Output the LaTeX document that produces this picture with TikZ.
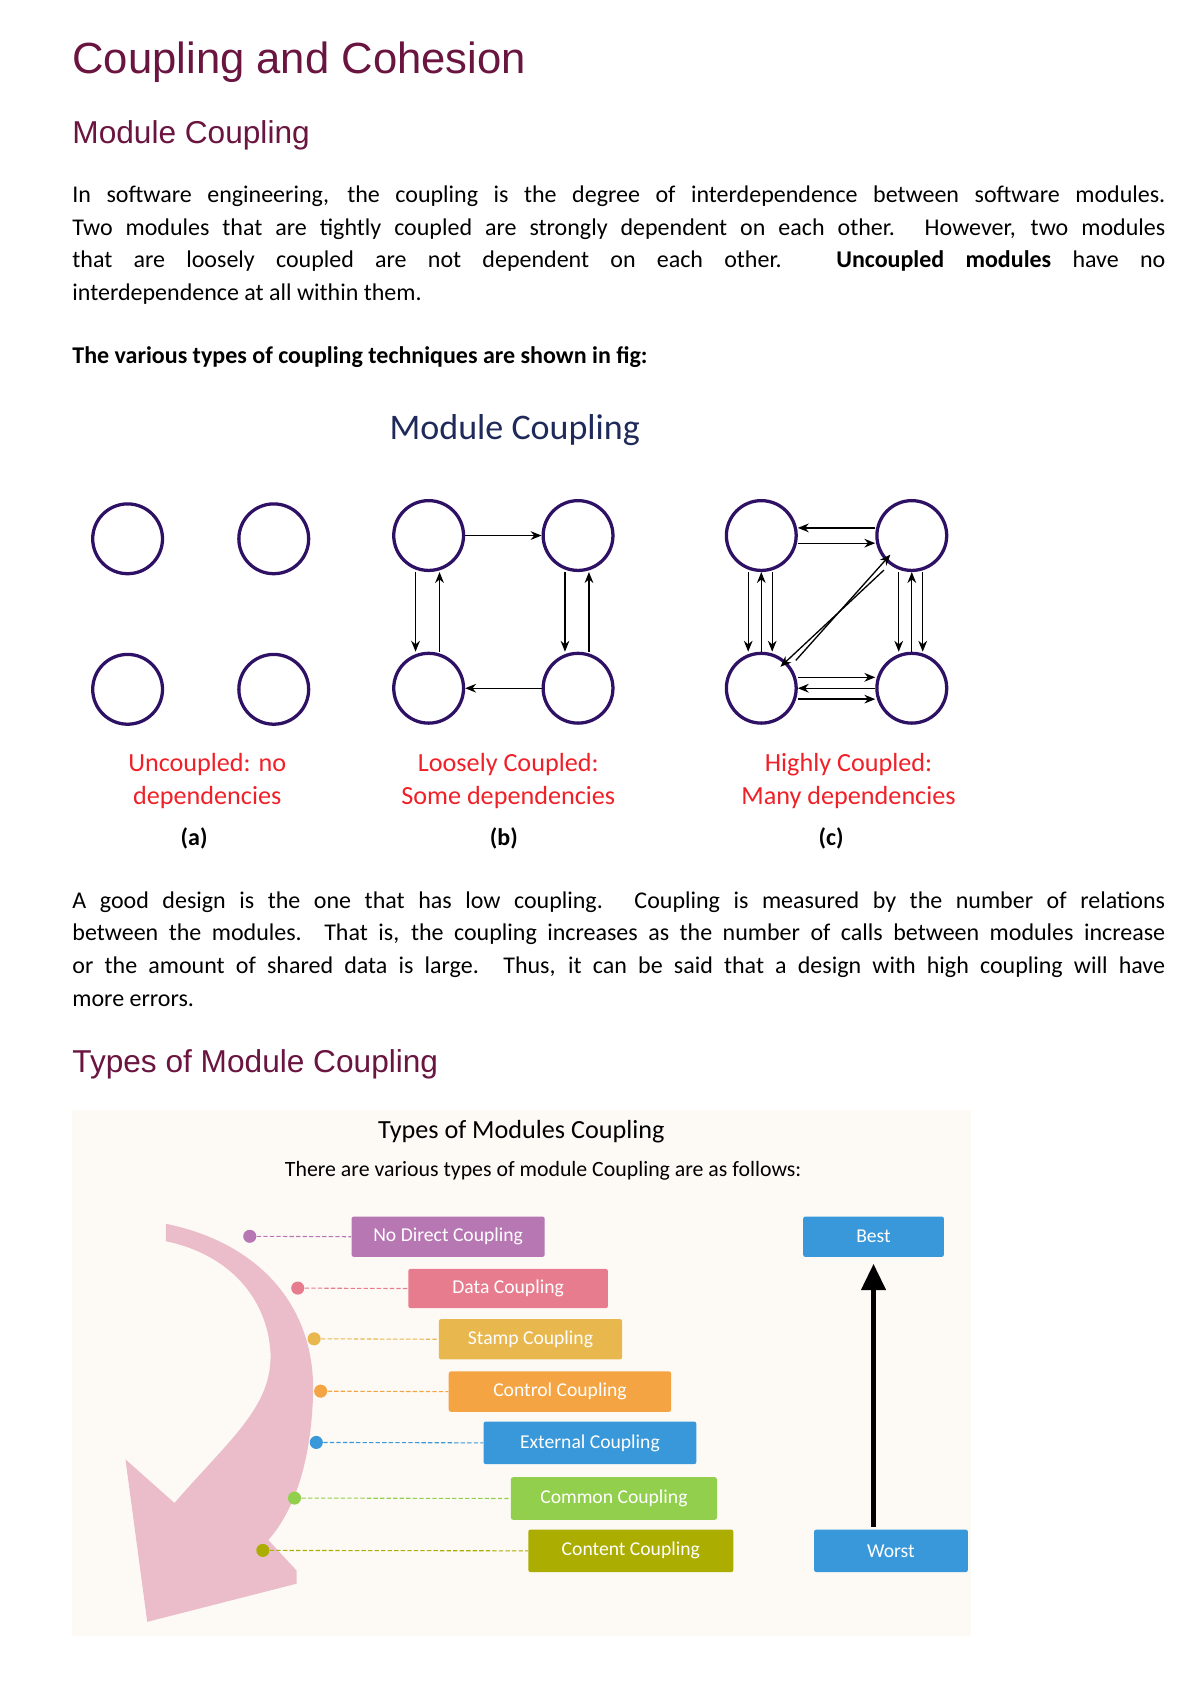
\documentclass[tikz,border=0pt]{standalone}
\usepackage{fontspec}
\setmainfont{Carlito}
\newfontfamily\headfont{Liberation Sans}
\usetikzlibrary{arrows.meta,calc}
\definecolor{maroon}{HTML}{6A1440}
\definecolor{navy}{HTML}{1F2A5A}
\definecolor{circ}{HTML}{2E1065}
\definecolor{redt}{HTML}{F02028}
\definecolor{pinkarr}{HTML}{EBBDCB}
\definecolor{panel}{HTML}{FDFAF5}
\definecolor{cND}{HTML}{B677B3}
\definecolor{cDA}{HTML}{E77C8E}
\definecolor{cST}{HTML}{E8B84F}
\definecolor{cCO}{HTML}{F5A443}
\definecolor{cEX}{HTML}{3898DA}
\definecolor{cCM}{HTML}{92CF4D}
\definecolor{cCT}{HTML}{ABAD00}
\tikzset{
  mod/.style={circle,draw=circ,line width=1.5pt,minimum size=32pt,inner sep=0pt},
  ar/.style={-{Stealth[length=5pt,width=4pt]},line width=0.6pt},
  body/.style={anchor=north west,text width=501pt,align=justify,font=\fontsize{11}{15}\selectfont,inner sep=0pt},
  lab/.style={text=redt,align=center,font=\fontsize{12}{15}\selectfont},
  tbox/.style={anchor=north west,text=white,font=\fontsize{9}{11}\selectfont,inner sep=0pt,rounded corners=1pt},
  dot/.style={circle,inner sep=0pt,minimum size=6pt},
}
\begin{document}
\begin{tikzpicture}[x=0.5pt,y=-0.5pt]
\useasboundingbox (0,0) rectangle (1100,1555);
\fill[white] (0,0) rectangle (1100,1555);
\node[anchor=west,text=maroon,font=\headfont\fontsize{20}{24}\selectfont,inner sep=0pt] (t1) at (66,57) {Coupling and Cohesion};
\node[anchor=west,text=maroon,font=\headfont\fontsize{14.5}{18}\selectfont,inner sep=0pt] (t2) at (66,124) {Module Coupling};
\node[body] (p1) at (66,170) {In software engineering, the coupling is the degree of interdependence between software modules.\linebreak Two modules that are tightly coupled are strongly dependent on each other. However, two modules\linebreak that are loosely coupled are not dependent on each other. \textbf{Uncoupled modules} have no\linebreak interdependence at all within them.};
\node[anchor=west,inner sep=0pt,font=\bfseries\fontsize{11}{15}\selectfont] (p2) at (66,327) {The various types of coupling techniques are shown in fig:};
\node[text=navy,font=\fontsize{16.5}{20}\selectfont] (dt) at (472,394) {Module Coupling};
% (a)
\node[mod] (a1) at (117,494) {}; \node[mod] (a2) at (251,494) {};
\node[mod] (a3) at (117,632) {}; \node[mod] (a4) at (251,632) {};
% (b)
\node[mod] (b1) at (393,491) {}; \node[mod] (b2) at (530,491) {};
\node[mod] (b3) at (393,631) {}; \node[mod] (b4) at (530,631) {};
\draw[ar] (b1.east) -- (b2.west);
\draw[ar] (b4.west) -- (b3.east);
\draw[ar] ([xshift=-6pt]b1.south) -- ([xshift=-6pt]b3.north);
\draw[ar] ([xshift=5pt]b3.north) -- ([xshift=5pt]b1.south);
\draw[ar] ([xshift=-6pt]b2.south) -- ([xshift=-6pt]b4.north);
\draw[ar] ([xshift=5pt]b4.north) -- ([xshift=5pt]b2.south);
% (c)
\node[mod] (c1) at (698,491) {}; \node[mod] (c2) at (836,491) {};
\node[mod] (c3) at (698,631) {}; \node[mod] (c4) at (836,631) {};
\draw[ar] ([yshift=3.5pt]c2.west) -- ([yshift=3.5pt]c1.east);
\draw[ar] ([yshift=-3.5pt]c1.east) -- ([yshift=-3.5pt]c2.west);
\draw[ar] ([yshift=5pt]c3.east) -- ([yshift=5pt]c4.west);
\draw[ar] (c4.west) -- (c3.east);
\draw[ar] ([yshift=-5pt]c3.east) -- ([yshift=-5pt]c4.west);
\draw[ar] ([xshift=-6pt]c1.south) -- ([xshift=-6pt]c3.north);
\draw[ar] (c3.north) -- (c1.south);
\draw[ar] ([xshift=5pt]c1.south) -- ([xshift=5pt]c3.north);
\draw[ar] ([xshift=-6pt]c2.south) -- ([xshift=-6pt]c4.north);
\draw[ar] (c4.north) -- (c2.south);
\draw[ar] ([xshift=5pt]c2.south) -- ([xshift=5pt]c4.north);
\draw[ar] ([shift={(3pt,2pt)}]c3.40) -- ([shift={(3pt,2pt)}]c2.220);
\draw[ar] ([shift={(-2pt,-3pt)}]c2.230) -- ([shift={(-2pt,-3pt)}]c3.50);
\node[lab] (la) at (190,716) {Uncoupled: no\\dependencies};
\node[lab] (lb) at (466,716) {Loosely Coupled:\\Some dependencies};
\node[lab] (lc) at (778,716) {Highly Coupled:\\Many dependencies};
\node[font=\bfseries\fontsize{11}{13}\selectfont] (ca) at (178,769) {(a)};
\node[font=\bfseries\fontsize{11}{13}\selectfont] (cb) at (462,769) {(b)};
\node[font=\bfseries\fontsize{11}{13}\selectfont] (cc) at (762,769) {(c)};
\node[body] (p3) at (66,817) {A good design is the one that has low coupling. Coupling is measured by the number of relations\linebreak between the modules. That is, the coupling increases as the number of calls between modules increase\linebreak or the amount of shared data is large. Thus, it can be said that a design with high coupling will have\linebreak more errors.};
\node[anchor=west,text=maroon,font=\headfont\fontsize{14.5}{18}\selectfont,inner sep=0pt] (t3) at (66,976) {Types of Module Coupling};
% bottom panel
\fill[panel] (66,1018) rectangle (890,1500);
\node[font=\fontsize{12}{14}\selectfont] (bt) at (478,1038) {Types of Modules Coupling};
\node[font=\fontsize{10}{12}\selectfont] (bs) at (498,1073) {There are various types of module Coupling are as follows:};
\fill[pinkarr] (152,1122) .. controls (240,1140) and (290,1200) .. (287,1280)
  .. controls (285,1340) and (270,1385) .. (246,1412) -- (272,1440) -- (272,1452) -- (135,1487) -- (115,1338) -- (160,1378)
  .. controls (210,1320) and (250,1290) .. (248,1240) .. controls (245,1190) and (210,1150) .. (152,1138) -- cycle;
\foreach \nm/\tx/\cl/\xa/\xb/\ya/\yb/\dx in {nd/No Direct Coupling/cND/322/499/1115/1152/229, da/Data Coupling/cDA/374/557/1163/1199/273, st/Stamp Coupling/cST/402/570/1209/1246/288, co/Control Coupling/cCO/411/615/1257/1294/294, ex/External Coupling/cEX/443/638/1303/1342/290, cm/Common Coupling/cCM/468/657/1354/1393/270, ct/Content Coupling/cCT/484/672/1402/1441/241}{
  \node[tbox,fill=\cl,minimum width={(\xb-\xa)*0.5pt},minimum height={(\yb-\ya)*0.5pt},anchor=north west,align=center] (\nm) at (\xa,\ya) {\tx};
  \node[dot,fill=\cl] (d\nm) at (\dx,{(\ya+\yb)/2}) {};
  \draw[\cl,line width=0.5pt,dash pattern=on 2pt off 1pt] (d\nm) -- (\nm.west);
}
\node[tbox,fill=cEX,minimum width=64.5pt,minimum height=18.5pt] (best) at (736,1115) {Best};
\node[tbox,fill=cEX,minimum width=70.5pt,minimum height=19.5pt] (worst) at (746,1402) {Worst};
\draw[-{Triangle[length=12pt,width=11pt]},line width=2pt] ([yshift=1pt]worst.north -| best.south) -- ([yshift=-3pt]best.south);
\end{tikzpicture}
\end{document}
